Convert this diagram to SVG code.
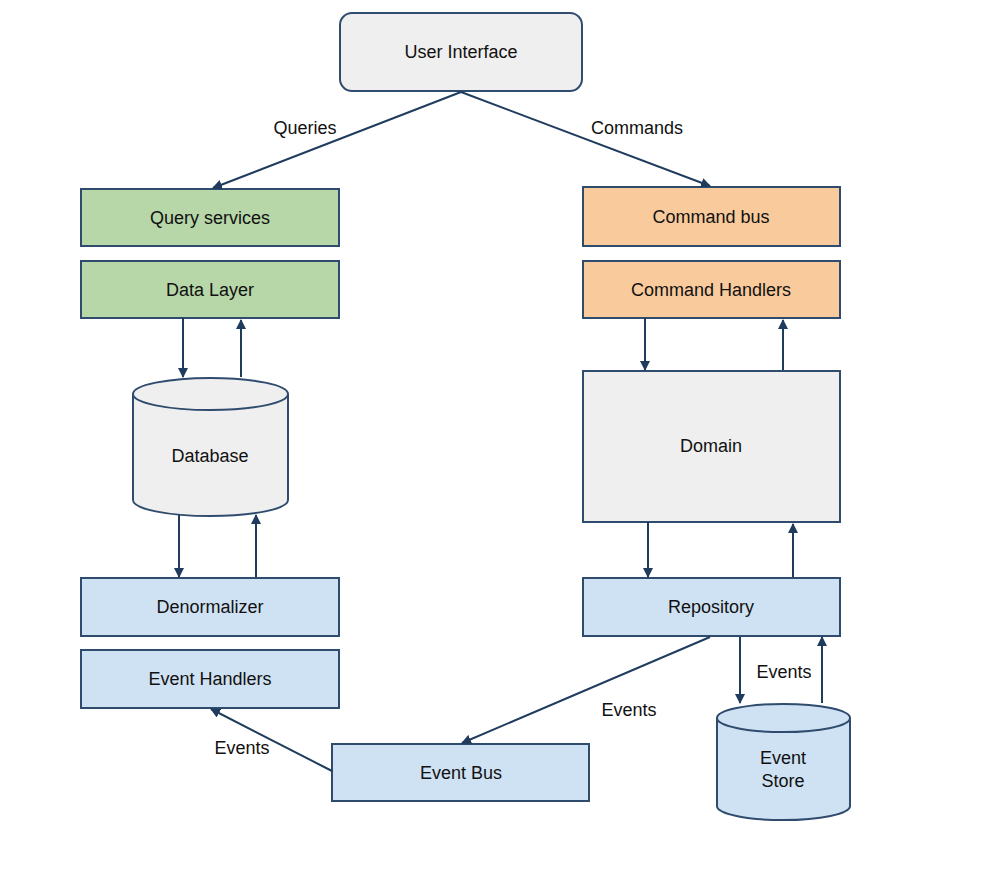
<svg xmlns="http://www.w3.org/2000/svg" width="987" height="870" viewBox="0 0 987 870">
<style>
.b{stroke:#2f4b6e;stroke-width:2}
.g{fill:#b7d7a8}.o{fill:#f9cb9c}.l{fill:#cfe2f3}.w{fill:#efefef}
text{font-family:"Liberation Sans",Arial,sans-serif;font-size:18px;fill:#111;text-anchor:middle;dominant-baseline:central}
.c line{stroke:#1f3c5e;stroke-width:2;marker-end:url(#a)}
</style>
<defs><marker id="a" viewBox="0 0 10 10" refX="9" refY="5" markerWidth="5" markerHeight="5" orient="auto"><path d="M0,0L10,5L0,10z" fill="#1f3c5e"/></marker></defs>
<rect width="987" height="870" fill="#fff"/>
<g id="ui"><rect class="b w" x="340" y="13" width="242" height="78" rx="12"/><text x="461" y="52">User Interface</text></g>
<g id="qs"><rect class="b g" x="81" y="189" width="258" height="57"/><text x="210" y="218">Query services</text></g>
<g id="dl"><rect class="b g" x="81" y="261" width="258" height="57"/><text x="210" y="290">Data Layer</text></g>
<g id="cb"><rect class="b o" x="583" y="187" width="257" height="59"/><text x="711" y="217">Command bus</text></g>
<g id="ch"><rect class="b o" x="583" y="261" width="257" height="57"/><text x="711" y="290">Command Handlers</text></g>
<g id="dom"><rect class="b w" x="583" y="371" width="257" height="151"/><text x="711" y="446">Domain</text></g>
<g id="db"><path class="b w" d="M133,394 A77,16 0 0 1 288,394 V500 A77,16 0 0 1 133,500 Z"/><path class="b" fill="none" d="M133,394 A77,16 0 0 0 288,394"/><text x="210" y="456">Database</text></g>
<g id="den"><rect class="b l" x="81" y="578" width="258" height="58"/><text x="210" y="607">Denormalizer</text></g>
<g id="eh"><rect class="b l" x="81" y="650" width="258" height="58"/><text x="210" y="679">Event Handlers</text></g>
<g id="rep"><rect class="b l" x="583" y="578" width="257" height="58"/><text x="711" y="607">Repository</text></g>
<g id="eb"><rect class="b l" x="332" y="744" width="257" height="57"/><text x="461" y="773">Event Bus</text></g>
<g id="es"><path class="b l" d="M717,718 A66,14 0 0 1 850,718 V806 A66,14 0 0 1 717,806 Z"/><path class="b" fill="none" d="M717,718 A66,14 0 0 0 850,718"/><text x="783" y="758">Event</text><text x="783" y="781">Store</text></g>
<g class="c">
<line x1="461" y1="92" x2="213" y2="188"/>
<line x1="461" y1="92" x2="710" y2="186"/>
<line x1="183" y1="318" x2="183" y2="377"/>
<line x1="241" y1="377" x2="241" y2="320"/>
<line x1="179" y1="515" x2="179" y2="577"/>
<line x1="256" y1="577" x2="256" y2="515"/>
<line x1="645" y1="318" x2="645" y2="370"/>
<line x1="783" y1="370" x2="783" y2="320"/>
<line x1="648" y1="522" x2="648" y2="577"/>
<line x1="793" y1="577" x2="793" y2="524"/>
<line x1="740" y1="637" x2="740" y2="703"/>
<line x1="822" y1="703" x2="822" y2="637"/>
<line x1="710" y1="637" x2="462" y2="743"/>
<line x1="332" y1="771" x2="211" y2="709"/>
<text x="305" y="128">Queries</text>
<text x="637" y="128">Commands</text>
<text x="784" y="672">Events</text>
<text x="629" y="710">Events</text>
<text x="242" y="748">Events</text>
</g>
</svg>
